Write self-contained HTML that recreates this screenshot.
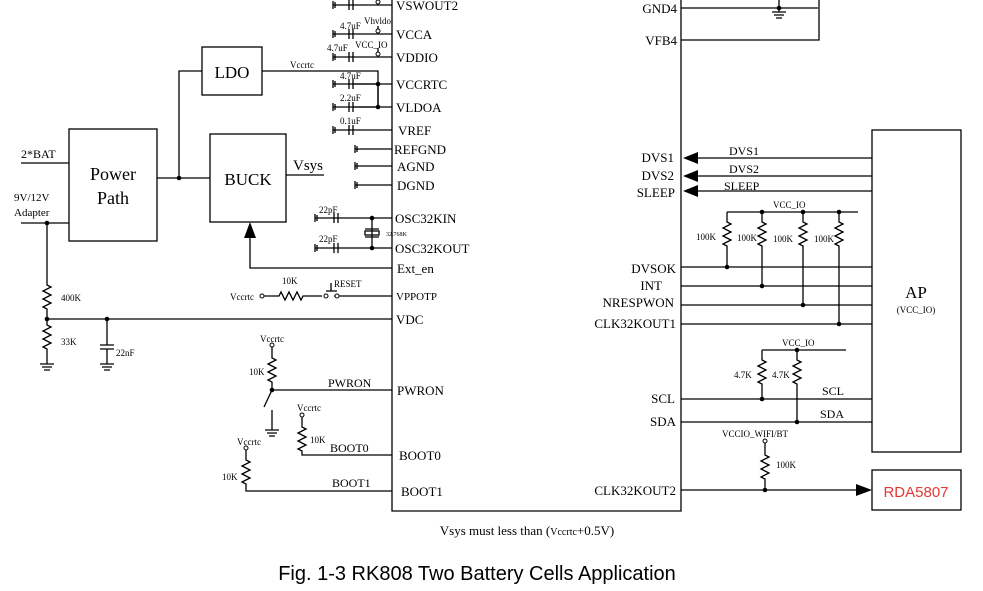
<!DOCTYPE html>
<html><head><meta charset="utf-8"><style>
html,body{margin:0;padding:0;background:#fff;}
svg{display:block;}
text{font-family:"Liberation Serif",serif;fill:#000;}
</style></head><body>
<svg width="983" height="591" viewBox="0 0 983 591" xmlns="http://www.w3.org/2000/svg">
<g stroke="#000" stroke-width="1.3" fill="none">
<path d="M392,0 V511 H681 V0"/>
<path d="M681,8 H818 M681,40 H819 V0"/>
<path d="M779,0 V12 M772,12 H786 M774,15 H784 M776,18 H782"/>
<rect x="69" y="129" width="88" height="112"/>
<rect x="202" y="47" width="60" height="48"/>
<rect x="210" y="134" width="76" height="88"/>
<path d="M21,163 H69 M21,223 H69 M157,178 H210 M179,178 V71 H202 M262,71 H378 V107 M286,175 H324"/>
<path d="M392,268 H250 V238"/>
<path d="M47,223 V285 l4,2 -8,4 8,4 -8,4 8,4 -8,4 4,2 V325 l4,2 -8,4 8,4 -8,4 8,4 -8,4 4,2 V364 M40,364 H54 M42,367 H52 M44,370 H50"/>
<path d="M47,319 H392 M107,319 V345 M100,345 H114 M100,349 H114 M107,349 V364 M100,364 H114 M102,367 H112 M104,370 H110"/>
<path d="M333,5 H392 M333,34 H392 M333,57 H392 M333,84 H392 M333,107 H392 M333,130 H392 M355,149 H392 M355,166 H392 M355,185 H392 M315,218 H392 M315,248 H392"/>
<path d="M333,1 V9 M335,2 V8 M349,0 V10 M353,0 V10 M333,30 V38 M335,31 V37 M349,29 V39 M353,29 V39 M333,53 V61 M335,54 V60 M349,52 V62 M353,52 V62 M333,80 V88 M335,81 V87 M349,79 V89 M353,79 V89 M333,103 V111 M335,104 V110 M349,102 V112 M353,102 V112 M333,126 V134 M335,127 V133 M349,125 V135 M353,125 V135 M355,145 V153 M357,146 V152 M355,162 V170 M357,163 V169 M355,181 V189 M357,182 V188 M315,214 V222 M317,215 V221 M334,213 V223 M338,213 V223 M315,244 V252 M317,245 V251 M334,243 V253 M338,243 V253"/>
<path d="M378,84 V107 M353,84 H378 M353,107 H378 M372,218 V248 M365,229 H379 M365,237 H379"/>
<rect x="365" y="231" width="14" height="4"/>
<path d="M378,5 V0 M378,34 V26 M378,57 V48"/>
<path d="M262,296 H279 l2,-4 4,8 4,-8 4,8 4,-8 4,8 2,-4 H322 M334,296 H392 M326,291 H337 M331,291 V283"/>
<path d="M272,345 V358 l4,2 -8,4 8,4 -8,4 8,4 -8,4 4,2 V390 H392 M272,390 L264,407 M272,410 V430 M265,430 H279 M267,433 H277 M269,436 H275"/>
<path d="M302,415 V427 l4,2 -8,4 8,4 -8,4 8,4 -8,4 4,2 V455 H392"/>
<path d="M246,448 V460 l4,2 -8,4 8,4 -8,4 8,4 -8,4 4,2 V491 H392"/>
<path d="M697,158 H872 M697,176 H872 M697,191 H872 M681,267 H872 M681,286 H872 M681,305 H872 M681,324 H872"/>
<path d="M727,212 H858 M727,212 V222 l4,2 -8,4 8,4 -8,4 8,4 -8,4 4,2 V267 M762,212 V222 l4,2 -8,4 8,4 -8,4 8,4 -8,4 4,2 V286 M803,212 V222 l4,2 -8,4 8,4 -8,4 8,4 -8,4 4,2 V305 M839,212 V222 l4,2 -8,4 8,4 -8,4 8,4 -8,4 4,2 V324"/>
<path d="M681,399 H872 M681,422 H872 M681,490 H858"/>
<path d="M762,350 H846 M762,350 V360 l4,2 -8,4 8,4 -8,4 8,4 -8,4 4,2 V399 M797,350 V360 l4,2 -8,4 8,4 -8,4 8,4 -8,4 4,2 V422"/>
<path d="M765,443 V455 l4,2 -8,4 8,4 -8,4 8,4 -8,4 4,2 V490"/>
<rect x="872" y="130" width="89" height="322"/>
<rect x="872" y="470" width="89" height="40"/>
</g>
<g fill="#000">
<circle cx="179" cy="178" r="2.3"/><circle cx="47" cy="223" r="2.3"/><circle cx="47" cy="319" r="2.3"/><circle cx="107" cy="319" r="2.3"/>
<circle cx="378" cy="84" r="2.3"/><circle cx="378" cy="107" r="2.3"/><circle cx="372" cy="218" r="2.3"/><circle cx="372" cy="248" r="2.3"/>
<circle cx="779" cy="8" r="2.3"/><circle cx="272" cy="390" r="2.3"/>
<circle cx="762" cy="212" r="2.3"/><circle cx="803" cy="212" r="2.3"/><circle cx="839" cy="212" r="2.3"/>
<circle cx="727" cy="267" r="2.3"/><circle cx="762" cy="286" r="2.3"/><circle cx="803" cy="305" r="2.3"/><circle cx="839" cy="324" r="2.3"/>
<circle cx="797" cy="350" r="2.3"/><circle cx="762" cy="399" r="2.3"/><circle cx="797" cy="422" r="2.3"/><circle cx="765" cy="490" r="2.3"/>
<path d="M683,158 L698,152 V164 Z M683,176 L698,170 V182 Z M683,191 L698,185 V197 Z M872,490 L856,484 V496 Z M250,222 L244,238 H256 Z"/>
</g>
<g fill="#fff" stroke="#000" stroke-width="1">
<circle cx="262" cy="296" r="2"/><circle cx="326" cy="296" r="2"/><circle cx="337" cy="296" r="2"/>
<circle cx="272" cy="345" r="2"/><circle cx="302" cy="415" r="2"/><circle cx="246" cy="448" r="2"/><circle cx="765" cy="441" r="2"/>
<circle cx="378" cy="2" r="2"/><circle cx="378" cy="31" r="2"/><circle cx="378" cy="54" r="2"/>
</g>
<g font-size="13">
<text x="396" y="10">VSWOUT2</text><text x="396" y="39">VCCA</text><text x="396" y="62">VDDIO</text>
<text x="396" y="89">VCCRTC</text><text x="396" y="112">VLDOA</text><text x="398" y="135">VREF</text>
<text x="394" y="154">REFGND</text><text x="397" y="171">AGND</text><text x="397" y="190">DGND</text>
<text x="395" y="223">OSC32KIN</text><text x="395" y="253">OSC32KOUT</text><text x="397" y="273">Ext_en</text>
<text x="396" y="300" font-size="11">VPPOTP</text><text x="396" y="324">VDC</text><text x="397" y="395">PWRON</text>
<text x="399" y="460">BOOT0</text><text x="401" y="496">BOOT1</text>
</g>
<g font-size="13" text-anchor="end">
<text x="677" y="13">GND4</text><text x="677" y="45">VFB4</text>
<text x="674" y="162">DVS1</text><text x="674" y="180">DVS2</text><text x="675" y="197">SLEEP</text>
<text x="676" y="273">DVSOK</text><text x="662" y="290">INT</text><text x="674" y="307">NRESPWON</text><text x="676" y="328">CLK32KOUT1</text>
<text x="675" y="403">SCL</text><text x="676" y="426">SDA</text><text x="676" y="495">CLK32KOUT2</text>
</g>
<g font-size="12">
<text x="729" y="155">DVS1</text><text x="729" y="173">DVS2</text><text x="724" y="190">SLEEP</text>
<text x="822" y="395">SCL</text><text x="820" y="418">SDA</text>
<text x="328" y="387">PWRON</text><text x="330" y="452">BOOT0</text><text x="332" y="487">BOOT1</text>
</g>
<g font-size="9">
<text x="340" y="29">4.7uF</text><text x="364" y="24">Vhvldo</text><text x="327" y="51">4.7uF</text><text x="355" y="48">VCC_IO</text>
<text x="340" y="79">4.7uF</text><text x="340" y="101">2.2uF</text><text x="340" y="124">0.1uF</text>
<text x="290" y="68">Vccrtc</text>
<text x="319" y="213">22pF</text><text x="319" y="242">22pF</text><text x="386" y="236" font-size="6">32.768K</text>
<text x="282" y="284">10K</text><text x="334" y="287">RESET</text><text x="230" y="300">Vccrtc</text>
<text x="61" y="301">400K</text><text x="61" y="345">33K</text><text x="116" y="356">22nF</text>
<text x="260" y="342">Vccrtc</text><text x="249" y="375">10K</text>
<text x="297" y="411">Vccrtc</text><text x="310" y="443">10K</text>
<text x="237" y="445">Vccrtc</text><text x="222" y="480">10K</text>
<text x="773" y="208">VCC_IO</text><text x="696" y="240">100K</text><text x="737" y="241">100K</text><text x="773" y="242">100K</text><text x="814" y="242">100K</text>
<text x="782" y="346">VCC_IO</text><text x="734" y="378">4.7K</text><text x="772" y="378">4.7K</text>
<text x="722" y="437">VCCIO_WIFI/BT</text><text x="776" y="468">100K</text>
</g>
<text x="21" y="158" font-size="12">2*BAT</text>
<text x="14" y="201" font-size="11">9V/12V</text><text x="14" y="216" font-size="11">Adapter</text>
<text x="113" y="180" font-size="18" text-anchor="middle">Power</text><text x="113" y="204" font-size="18" text-anchor="middle">Path</text>
<text x="232" y="78" font-size="17" text-anchor="middle">LDO</text>
<text x="248" y="185" font-size="17" text-anchor="middle">BUCK</text>
<text x="293" y="170" font-size="15">Vsys</text>
<text x="916" y="298" font-size="17" text-anchor="middle">AP</text>
<text x="916" y="313" font-size="9" text-anchor="middle">(VCC_IO)</text>
<text x="916" y="497" font-size="15" text-anchor="middle" style="fill:#e53935;font-family:'Liberation Sans',sans-serif">RDA5807</text>
<text x="527" y="535" font-size="13" text-anchor="middle">Vsys must less than (<tspan font-size="10">Vccrtc</tspan>+0.5V)</text>
<text x="477" y="580" font-size="20" text-anchor="middle" style="font-family:'Liberation Sans',sans-serif">Fig. 1-3 RK808 Two Battery Cells Application</text>
</svg>
</body></html>
